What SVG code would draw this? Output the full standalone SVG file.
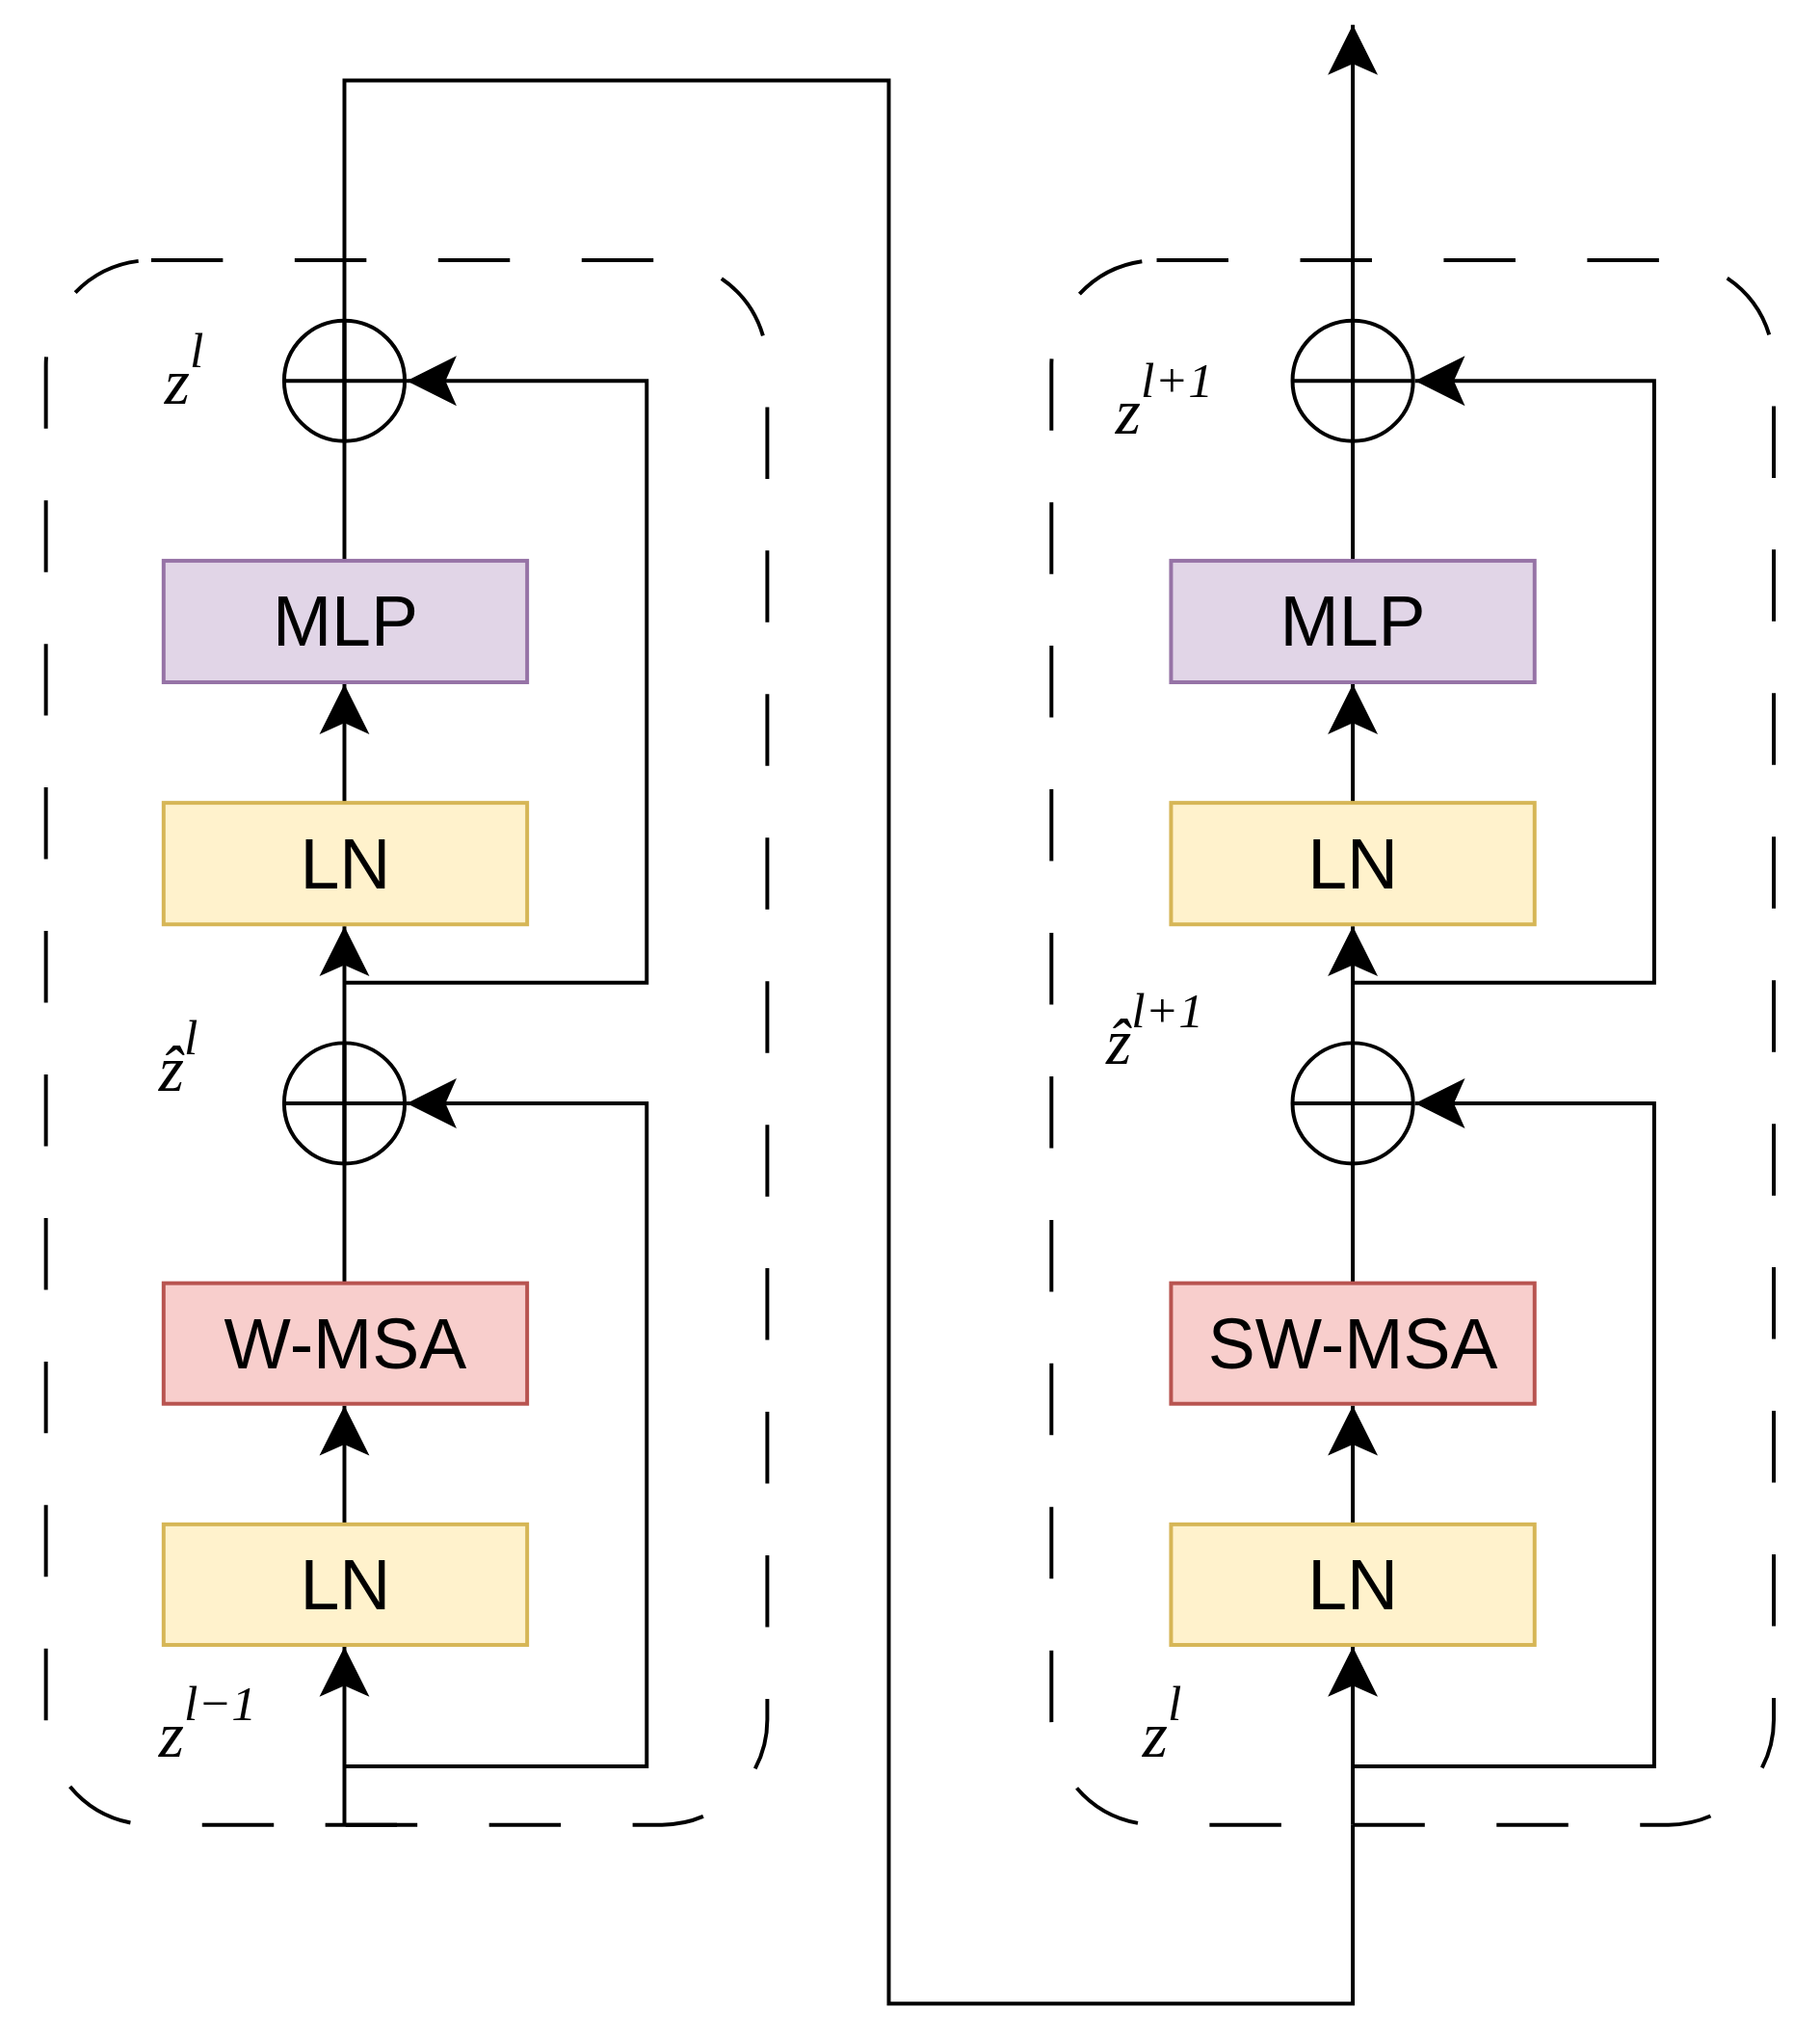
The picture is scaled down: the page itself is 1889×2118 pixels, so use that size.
<svg xmlns="http://www.w3.org/2000/svg" width="1889" height="2118" viewBox="0 0 1889 2118">
<style>
.c{fill:none;stroke:#000;stroke-width:4}
.a{fill:none;stroke:#000;stroke-width:4;marker-end:url(#ar)}
.box{stroke-width:4}
.t{font-family:"Liberation Sans",Arial,sans-serif;font-size:74px;text-anchor:middle;fill:#000}
.m{font-family:"Liberation Serif","Times New Roman",serif;font-style:italic;font-size:68px;fill:#000}
.s{font-size:52px;font-style:italic}
.d{fill:none;stroke:#000;stroke-width:4;stroke-dasharray:75 75}
</style>
<defs>
<marker id="ar" markerUnits="userSpaceOnUse" markerWidth="60" markerHeight="60" viewBox="-60 -30 62 60" refX="0" refY="0" orient="auto">
<path d="M0,0 L-54,-27 L-42,0 L-54,27 Z" fill="#000"/>
</marker>
</defs>
<rect width="1889" height="2118" fill="#fff"/>
<g transform="scale(0.993)">
<g id="frames">
<rect class="d" x="48" y="272" width="754" height="1635" rx="110"/>
<rect class="d" x="1099" y="272" width="755" height="1635" rx="110"/>
</g>
<g id="connectors">
<path class="a" d="M360,1907 L360,1721"/>
<path class="c" d="M340,1907 L415,1907"/>
<path class="a" d="M360,1593 L360,1469"/>
<path class="c" d="M360,1341 L360,1090"/>
<path class="a" d="M360,1090 L360,968"/>
<path class="a" d="M360,839 L360,715"/>
<path class="c" d="M360,586 L360,84 L929,84 L929,2094 L1414,2094 L1414,1907"/>
<path class="a" d="M1414,1907 L1414,1721"/>
<path class="a" d="M360,1846 L676,1846 L676,1153 L425,1153"/>
<path class="a" d="M360,1027 L676,1027 L676,398 L425,398"/>
<path class="a" d="M1414,1593 L1414,1469"/>
<path class="c" d="M1414,1341 L1414,1090"/>
<path class="a" d="M1414,1090 L1414,968"/>
<path class="a" d="M1414,839 L1414,715"/>
<path class="c" d="M1414,586 L1414,335"/>
<path class="a" d="M1414,335 L1414,26"/>
<path class="a" d="M1414,1846 L1729,1846 L1729,1153 L1479,1153"/>
<path class="a" d="M1414,1027 L1729,1027 L1729,398 L1479,398"/>
</g>
<g id="add1"><circle class="c" cx="360" cy="398" r="63"/><path class="c" d="M297,398 L423,398 M360,335 L360,461"/></g>
<g id="add2"><circle class="c" cx="360" cy="1153" r="63"/><path class="c" d="M297,1153 L423,1153 M360,1090 L360,1216"/></g>
<g id="add3"><circle class="c" cx="1414" cy="398" r="63"/><path class="c" d="M1351,398 L1477,398 M1414,335 L1414,461"/></g>
<g id="add4"><circle class="c" cx="1414" cy="1153" r="63"/><path class="c" d="M1351,1153 L1477,1153 M1414,1090 L1414,1216"/></g>
<g id="mlp1"><rect class="box" x="171" y="586" width="380" height="127" fill="#e1d5e7" stroke="#9673a6"/><text class="t" x="361" y="675">MLP</text></g>
<g id="ln1"><rect class="box" x="171" y="839" width="380" height="127" fill="#fff2cc" stroke="#d6b656"/><text class="t" x="361" y="928">LN</text></g>
<g id="wmsa"><rect class="box" x="171" y="1341" width="380" height="126" fill="#f8cecc" stroke="#b85450"/><text class="t" x="361" y="1430">W-MSA</text></g>
<g id="ln2"><rect class="box" x="171" y="1593" width="380" height="126" fill="#fff2cc" stroke="#d6b656"/><text class="t" x="361" y="1682">LN</text></g>
<g id="mlp2"><rect class="box" x="1224" y="586" width="380" height="127" fill="#e1d5e7" stroke="#9673a6"/><text class="t" x="1414" y="675">MLP</text></g>
<g id="ln3"><rect class="box" x="1224" y="839" width="380" height="127" fill="#fff2cc" stroke="#d6b656"/><text class="t" x="1414" y="928">LN</text></g>
<g id="swmsa"><rect class="box" x="1224" y="1341" width="380" height="126" fill="#f8cecc" stroke="#b85450"/><text class="t" x="1414" y="1430">SW-MSA</text></g>
<g id="ln4"><rect class="box" x="1224" y="1593" width="380" height="126" fill="#fff2cc" stroke="#d6b656"/><text class="t" x="1414" y="1682">LN</text></g>
<g id="labels">
<text class="m" x="172" y="422">z<tspan class="s" dy="-38">l</tspan></text>
<text class="m" x="166" y="1140">ẑ<tspan class="s" dy="-38">l</tspan></text>
<text class="m" x="166" y="1836">z<tspan class="s" dy="-38">l−1</tspan></text>
<text class="m" x="1166" y="453">z<tspan class="s" dy="-38">l+1</tspan></text>
<text class="m" x="1156" y="1112">ẑ<tspan class="s" dy="-38">l+1</tspan></text>
<text class="m" x="1194" y="1836">z<tspan class="s" dy="-38">l</tspan></text>
</g>
</g>
</svg>
